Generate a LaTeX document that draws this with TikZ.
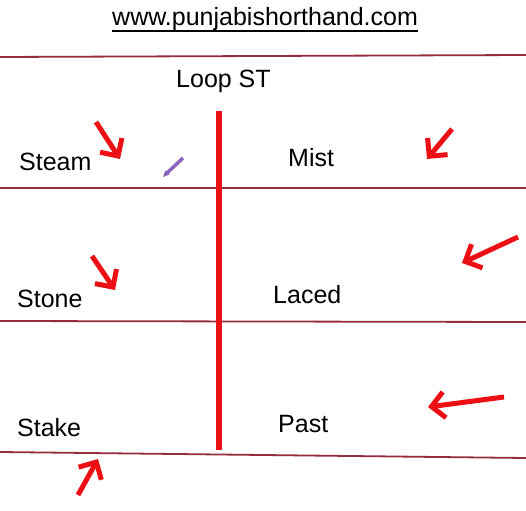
\documentclass[tikz,border=0pt]{standalone}
\usepackage{fontspec}
\setmainfont{Liberation Sans}
\usetikzlibrary{arrows.meta}
\definecolor{ruleRed}{RGB}{150,45,60}
\definecolor{markRed}{RGB}{236,16,20}
\definecolor{penPurple}{RGB}{140,100,190}
\tikzset{
  word/.style={anchor=base west,inner sep=0pt,font=\fontsize{25}{30}\selectfont},
  ruling/.style={ruleRed,line width=1.8pt},
  pointer/.style={markRed,line width=5pt,-{Straight Barb[length=13pt,width=26pt]}}
}
\begin{document}
\begin{tikzpicture}[x=1pt,y=-1pt]
\useasboundingbox[fill=white] (0,0) rectangle (526,510);
\node[word] (title) at (112,26) {www.punjabishorthand.com};
\draw[line width=1.8pt] ([yshift=-5pt]title.base west) -- ([yshift=-5pt]title.base east);
% ruled lines
\draw[ruling] (0,57) -- (526,55);
\draw[ruling] (0,188) -- (526,188);
\draw[ruling] (0,321) -- (526,322);
\draw[ruling] (0,452) -- (526,458);
\node[word] (loop) at (176,88) {Loop ST};
\draw[markRed,line width=6pt] (219,111) -- (219,450);
\node[word] (steam) at (19,171) {Steam};
\node[word] (stone) at (17,307) {Stone};
\node[word] (stake) at (17,436) {Stake};
\node[word] (mist) at (288,167) {Mist};
\node[word] (laced) at (273,303) {Laced};
\node[word] (past) at (278,432) {Past};
% arrows
\coordinate (a1) at (96,122);  \coordinate (b1) at (120,159);
\coordinate (a2) at (92,256);  \coordinate (b2) at (115,290);
\coordinate (a3) at (78,495);  \coordinate (b3) at (98,459);
\coordinate (a4) at (452,129); \coordinate (b4) at (427,159);
\coordinate (a5) at (518,237); \coordinate (b5) at (462,263);
\coordinate (a6) at (504,397); \coordinate (b6) at (428,407);
\foreach \i in {1,...,6}
  \draw[pointer] (a\i) -- (b\i);
% pen mark
\draw[penPurple,line width=3.5pt] (167,173) -- (183,158);
\fill[penPurple] (163,177) -- (165.5,170.5) -- (169.5,174.5) -- cycle;
\end{tikzpicture}
\end{document}
